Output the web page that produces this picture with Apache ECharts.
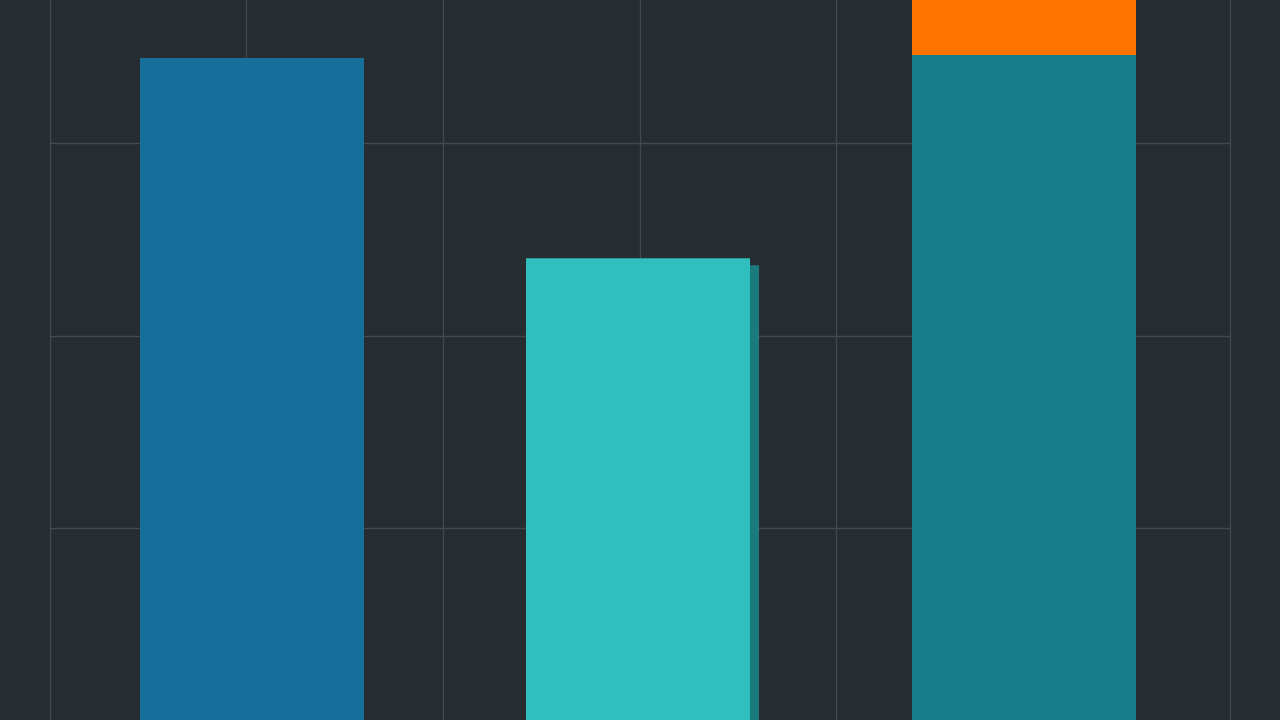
<!DOCTYPE html>
<html>
<head>
<meta charset="utf-8">
<script src="https://cdn.jsdelivr.net/npm/echarts@6/dist/echarts.min.js"></script>
<style>
  html, body { margin: 0; padding: 0; background: #262c30; overflow: hidden; width: 1280px; height: 720px; }
  #chart { position: absolute; left: 0; top: -49px; width: 1280px; height: 770px; }
</style>
</head>
<body>
<div id="chart"></div>
<script>
// Data
const categories = ["A", "B", "C"];
const baseValues = [86.1, 60.1, 86.5];
const topValues = ["-", "-", 12];
const baseColors = ["#166e9b", "#31bebe", "#187d8a"];
const topColor = "#ff7300";
const yTicks = [0, 25, 50, 75, 100];

const chart = echarts.init(document.getElementById('chart'), null, { renderer: 'canvas' });

const gridLine = { show: true, lineStyle: { color: '#414a50', width: 1.3 } };

const option = {
  backgroundColor: '#262c30',
  animation: false,
  grid: [
    { left: 50, right: 50, top: 0, bottom: 0 },
    { left: 59, right: 63, top: 0, bottom: 0 }
  ],
  xAxis: [
    { type: 'value', gridIndex: 0, min: 0, max: 6, interval: 1,
      axisLine: { show: false }, axisTick: { show: false }, axisLabel: { show: false },
      splitLine: gridLine },
    { type: 'category', gridIndex: 1, data: categories,
      axisLine: { show: false }, axisTick: { show: false }, axisLabel: { show: false },
      splitLine: { show: false } }
  ],
  yAxis: [
    { type: 'value', gridIndex: 0, min: yTicks[0], max: yTicks[yTicks.length - 1], interval: 25,
      axisLine: { show: false }, axisTick: { show: false }, axisLabel: { show: false },
      splitLine: gridLine },
    { type: 'value', gridIndex: 1, min: yTicks[0], max: yTicks[yTicks.length - 1], interval: 25,
      axisLine: { show: false }, axisTick: { show: false }, axisLabel: { show: false },
      splitLine: { show: false } }
  ],
  series: [
    {
      type: 'bar', xAxisIndex: 1, yAxisIndex: 1, stack: 'total', barWidth: 224,
      data: baseValues.map((v, i) => {
        const item = { value: v, itemStyle: { color: baseColors[i] } };
        if (i === 1) {
          item.itemStyle.shadowColor = '#1b7a7c';
          item.itemStyle.shadowOffsetX = 9;
          item.itemStyle.shadowOffsetY = 7;
          item.itemStyle.shadowBlur = 0;
        }
        return item;
      })
    },
    {
      type: 'bar', xAxisIndex: 1, yAxisIndex: 1, stack: 'total', barWidth: 224,
      itemStyle: { color: topColor },
      data: topValues
    }
  ]
};
chart.setOption(option);
</script>
</body>
</html>
